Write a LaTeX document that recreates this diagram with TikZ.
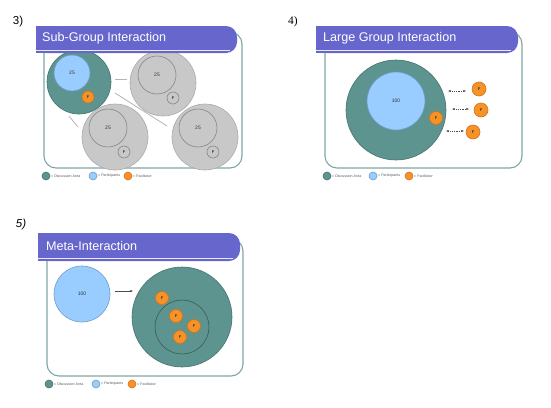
\documentclass[tikz,border=0pt]{standalone}
\usepackage{fontspec}
\setmainfont{Liberation Sans}
\newfontfamily\serifnum{Liberation Serif}
\usetikzlibrary{arrows.meta}
\definecolor{barc}{RGB}{102,102,204}
\definecolor{tealc}{RGB}{94,148,143}
\definecolor{tealdk}{RGB}{70,115,110}
\definecolor{bluec}{RGB}{153,204,255}
\definecolor{bluedk}{RGB}{110,155,200}
\definecolor{orangec}{RGB}{245,146,40}
\definecolor{orangedk}{RGB}{215,115,25}
\definecolor{greyc}{RGB}{200,200,200}
\definecolor{greydk}{RGB}{135,135,135}
\definecolor{framec}{RGB}{127,166,166}
\tikzset{
  disc/.style={circle, inner sep=0pt, line width=0.6pt},
  area/.style={disc, fill=tealc, draw=tealdk},
  part/.style={disc, fill=bluec, draw=bluedk, font=\fontsize{5}{5}\selectfont, text=black!80},
  fac/.style={disc, fill=orangec, draw=orangedk, minimum size=13pt, font=\fontsize{4}{4}\selectfont\bfseries, text=black!80},
  garea/.style={disc, fill=greyc, draw=greydk!70, minimum size=66pt},
  gpart/.style={disc, draw=greydk, minimum size=38pt, font=\fontsize{5}{5}\selectfont, text=black!80},
  gfac/.style={disc, draw=greydk, minimum size=12pt, font=\fontsize{4}{4}\selectfont\bfseries, text=black!80},
  framebox/.style={draw=framec, line width=1.1pt, rounded corners=12pt},
  titletext/.style={anchor=west, text=white, font=\fontsize{12.6}{13}\selectfont, inner sep=0pt},
  legtext/.style={anchor=west, inner sep=0pt, font=\fontsize{3.6}{4}\selectfont, text=black!65},
  legdot/.style={disc, minimum size=8pt},
  link/.style={draw=greyc!90!black, line width=0.8pt},
  dotarrow/.style={black!70, line width=0.4pt, dash pattern=on 1pt off 0.8pt, {Latex[length=2.6pt,width=2.2pt]}-{Latex[length=2.6pt,width=2.2pt]}},
  numlabel/.style={font=\fontsize{11.5}{12}\selectfont, inner sep=0pt}
}
\newcommand{\titlebar}[4]{%
  \fill[barc, rounded corners=11pt] (#1,#2) rectangle (#3,#4);
  \fill[barc] (#1,#2) rectangle ({#3-20},#4);
  \draw[white!85!barc, line width=0.7pt] (#1,{#4-3}) -- ({#3-7},{#4-3});
}
\begin{document}
\begin{tikzpicture}[x=1pt,y=-1pt]
\useasboundingbox[fill=white] (0,0) rectangle (551,407);

% ---------- Panel 3 ----------
\node[numlabel] (n3) at (18,22) {3)};
\draw[framebox] (44,32) rectangle (242,168);
\node[area, minimum size=64pt] (g3) at (79,82) {};
\node[part, minimum size=36pt] (p3) at (72,73) {25};
\node[fac, minimum size=12pt] (f3) at (88,97) {F};
\node[garea] (gA) at (163,83) {};
\node[gpart] (iA) at (157,75) {25};
\node[gfac] (fA) at (173,98) {F};
\node[garea] (gB) at (115,137) {};
\node[gpart] (iB) at (108,128) {25};
\node[gfac] (fB) at (124,152) {F};
\node[garea] (gC) at (205,137) {};
\node[gpart] (iC) at (198,128) {25};
\node[gfac] (fC) at (213,152) {F};
\coordinate (l1a) at (115,79); \coordinate (l1b) at (127,79);
\coordinate (l2a) at (115,93); \coordinate (l2b) at (167,126);
\coordinate (l3a) at (69,116); \coordinate (l3b) at (78,127);
\draw[link] (l1a) -- (l1b);
\draw[link] (l2a) -- (l2b);
\draw[link] (l3a) -- (l3b);
\titlebar{36}{26}{237}{53}
\node[titletext] (t3) at (42,38) {Sub-Group Interaction};
\node[legdot, fill=tealc, draw=tealdk] (la3) at (46,176) {};
\node[legtext] (ta3) at (51,176) {= Discussion Area};
\node[legdot, fill=bluec, draw=bluedk] (lb3) at (93,176) {};
\node[legtext] (tb3) at (98,176) {= Participants};
\node[legdot, fill=orangec, draw=orangedk] (lc3) at (128,176) {};
\node[legtext] (tc3) at (133,176) {= Facilitator};

% ---------- Panel 4 ----------
\node[numlabel, font=\serifnum\fontsize{11.5}{12}\selectfont] (n4) at (293,22) {4)};
\draw[framebox] (325,32) rectangle (522,168);
\node[area, minimum size=100pt] (g4) at (396,110) {};
\node[part, minimum size=58pt] (p4) at (396,101) {100};
\node[fac] (f4) at (436,118) {F};
\node[fac, minimum size=14pt] (o1) at (479,89) {F};
\node[fac, minimum size=14pt] (o2) at (481,110) {F};
\node[fac, minimum size=14pt] (o3) at (473,132) {F};
\coordinate (a1a) at (448,91); \coordinate (a1b) at (466,91);
\coordinate (a2a) at (452,109); \coordinate (a2b) at (469,109);
\coordinate (a3a) at (446,131); \coordinate (a3b) at (464,131);
\draw[dotarrow] (a1a) -- (a1b);
\draw[dotarrow] (a2a) -- (a2b);
\draw[dotarrow] (a3a) -- (a3b);
\titlebar{316}{26}{518}{53}
\node[titletext] (t4) at (323,38) {Large Group Interaction};
\node[legdot, fill=tealc, draw=tealdk] (la4) at (327,176) {};
\node[legtext] (ta4) at (332,176) {= Discussion Area};
\node[legdot, fill=bluec, draw=bluedk] (lb4) at (373,176) {};
\node[legtext] (tb4) at (378,176) {= Participants};
\node[legdot, fill=orangec, draw=orangedk] (lc4) at (409,176) {};
\node[legtext] (tc4) at (414,176) {= Facilitator};

% ---------- Panel 5 ----------
\node[numlabel, font=\fontsize{11.5}{12}\selectfont\itshape] (n5) at (21,225) {5)};
\draw[framebox] (47,239) rectangle (243,376);
\node[part, minimum size=56pt] (p5) at (82,294) {100};
\node[area, minimum size=100pt] (g5) at (182,317) {};
\node[disc, draw=tealdk!80!black, minimum size=54pt] (r5) at (182,327) {};
\node[fac] (f5a) at (162,298) {F};
\node[fac] (f5b) at (176,316) {F};
\node[fac] (f5c) at (194,326) {F};
\node[fac] (f5d) at (180,337) {F};
\coordinate (m1) at (115,291); \coordinate (m2) at (133,291);
\draw[black!70, line width=0.4pt, -{Latex[length=2.6pt,width=2.2pt]}] (m1) -- (m2);
\titlebar{38}{233}{240}{261}
\node[titletext] (t5) at (46,246) {Meta-Interaction};
\node[legdot, fill=tealc, draw=tealdk] (la5) at (49,384) {};
\node[legtext] (ta5) at (54,384) {= Discussion Area};
\node[legdot, fill=bluec, draw=bluedk] (lb5) at (96,384) {};
\node[legtext] (tb5) at (101,384) {= Participants};
\node[legdot, fill=orangec, draw=orangedk] (lc5) at (132,384) {};
\node[legtext] (tc5) at (137,384) {= Facilitator};
\end{tikzpicture}
\end{document}
